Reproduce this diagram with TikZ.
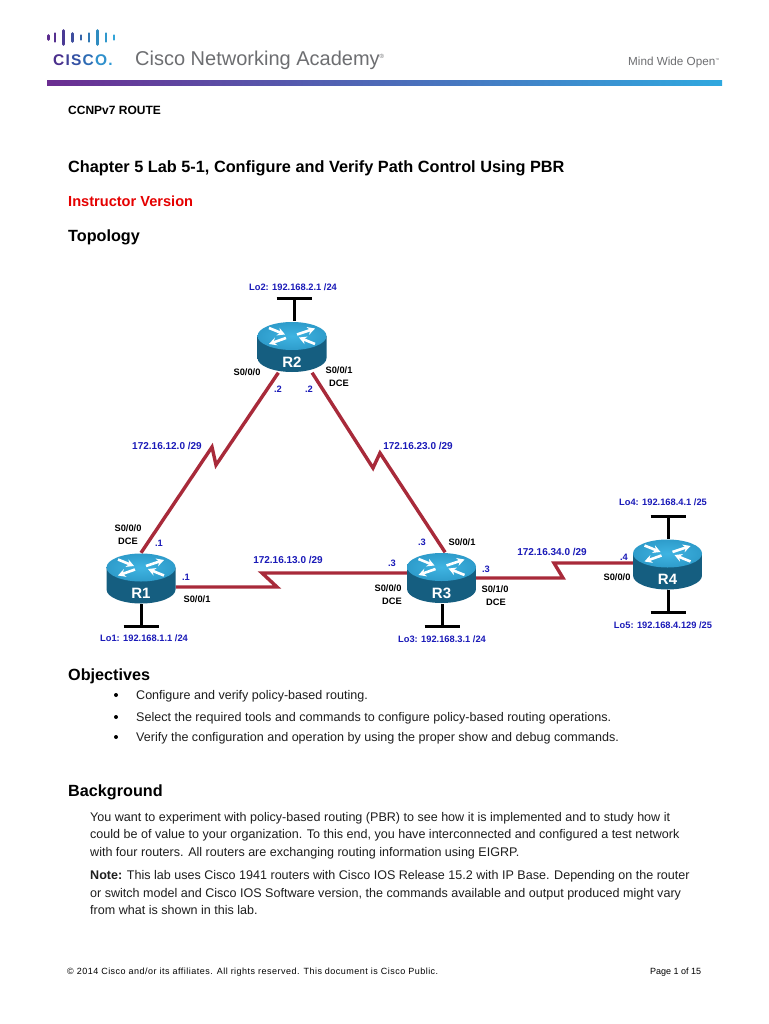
\documentclass[tikz,border=0pt]{standalone}
\usepackage{fontspec}
\setmainfont{Liberation Sans}
\usetikzlibrary{arrows.meta}
\newcommand\fs[1]{\fontsize{#1}{#1}\selectfont}
\definecolor{netblue}{HTML}{1A1AB8}
\definecolor{linkred}{HTML}{A82A3A}
\definecolor{cgrey}{HTML}{6D6E71}
\definecolor{bodyink}{HTML}{1E1E1E}
\definecolor{barl}{HTML}{6B2D91}
\definecolor{barm}{HTML}{1F4E96}
\definecolor{barr}{HTML}{2FA8DF}
\definecolor{rleft}{HTML}{155E80}
\definecolor{rmid}{HTML}{2A86AC}
\definecolor{rtopin}{HTML}{3FB4E2}
\definecolor{rtopout}{HTML}{2E9CCB}
\tikzset{
  txt/.style={inner sep=0pt,anchor=base west,text=black},
  lab/.style={inner sep=0pt,anchor=center,font=\fs{9.3}\bfseries,text=netblue},
  net/.style={inner sep=0pt,anchor=center,font=\fs{10}\bfseries,text=netblue},
  ifc/.style={inner sep=0pt,anchor=center,font=\fs{9.3}\bfseries,text=black},
  para/.style={txt,text=bodyink,font=\fs{12.55}},
  head/.style={txt,font=\fs{16.2}\bfseries},
  router/.style={inner sep=0pt,minimum width=69pt,minimum height=51pt,draw=none},
  rtext/.style={inner sep=0pt,anchor=center,font=\fs{15}\bfseries,text=white},
  link/.style={draw=linkred,line width=3.4pt,line join=miter},
  lopbk/.style={draw=black,line width=3pt},
  flow/.style={draw=white,line width=2.6pt,-{Stealth[length=7.5pt,width=8pt]}},
  logobar/.style={line width=2.6pt,line cap=round}
}
\newcommand\routerbody[3]{%
  \begin{scope}[shift={(#1,#2)}]
    \shade[left color=rleft,middle color=rmid,right color=rleft]
      (-34.5,-11) -- (-34.5,11) .. controls (-34.5,18.7) and (-19,25) .. (0,25)
      .. controls (19,25) and (34.5,18.7) .. (34.5,11) -- (34.5,-11) -- cycle;
    \shade[inner color=rtopin,outer color=rtopout] (0,-11) ellipse [x radius=34.5pt,y radius=14pt];
    \draw[flow] (-23,-19) -- (-7,-12.5);
    \draw[flow] (5,-12.5) -- (23,-18.5);
    \draw[flow] (-6,-9) -- (-23,-3);
    \draw[flow] (23,-3) -- (7,-9.5);
    \node[rtext] (#3t) at (0,15) {#3};
  \end{scope}}
\begin{document}
\begin{tikzpicture}[x=1pt,y=-1pt]
\useasboundingbox (0,0) rectangle (768,1024);
\fill[white] (0,0) rectangle (768,1024);
% header
\foreach \xp/\h/\c in {48.3/2/5B2C8E,55/4/55308F,63.3/7/4A3A94,72.3/4/3E4E9E,81/2/3563A8,89/4/3078B4,97.3/7/2F8CC0,106/4/3098CC,114/2/33A4D8}{
  \definecolor{lc}{HTML}{\c}
  \draw[logobar,lc] (\xp,37.5-\h) -- (\xp,37.5+\h);
}
\node[txt,font=\fs{15.5}\bfseries] (ciscoword) at (53,65.5) {\textcolor[HTML]{4A2F8C}{C}\kern1.2pt\textcolor[HTML]{3F3F96}{I}\kern1.2pt\textcolor[HTML]{3552A4}{S}\kern1.2pt\textcolor[HTML]{2E6CB4}{C}\kern1.2pt\textcolor[HTML]{2F90CC}{O}\kern1.2pt\textcolor[HTML]{2F9AD6}{.}};
\node[txt,text=cgrey,font=\fs{20}] (academy) at (135,66) {Cisco Networking Academy\raisebox{7pt}{\fs{6}®}};
\node[txt,text=cgrey,font=\fs{11.7}] (mind) at (628,66) {Mind Wide Open\raisebox{4pt}{\fs{4}™}};
\shade[left color=barl,middle color=barm,right color=barr] (47,80.5) rectangle (722,85.5);
\node[txt,font=\fs{12}\bfseries] (course) at (68,115) {CCNPv7 ROUTE};
\node[txt,font=\fs{16.3}\bfseries] (title) at (68,173) {Chapter 5 Lab 5-1, Configure and Verify Path Control Using PBR};
\node[txt,text=red!90!black,font=\fs{14.6}\bfseries] (instr) at (68,207) {Instructor Version};
\node[head] (topo) at (68,241) {Topology};
% routers
\node[router] (R1) at (141,578.5) {};
\node[router] (R2) at (292,347) {};
\node[router] (R3) at (441.5,578) {};
\node[router] (R4) at (667.5,564.5) {};
% zigzag corners
\coordinate (z12a) at (216,465); \coordinate (z12b) at (212,447);
\coordinate (z23a) at (373,468); \coordinate (z23b) at (380,453);
\coordinate (z13a) at (277,587); \coordinate (z13b) at (262,573);
\coordinate (z34a) at (563,578); \coordinate (z34b) at (554,563);
% serial links
\draw[link] (R2.242.5) -- (z12a) -- (z12b) -- (R1.north);
\draw[link] (R2.-52) -- (z23a) -- (z23b) -- (R3.82);
\draw[link] (R1.east |- z13a) -- (z13a) -- (z13b) -- (R3.west |- z13b);
\draw[link] (R3.east |- z34a) -- (z34a) -- (z34b) -- (R4.west |- z34b);
% loopbacks
\coordinate (lo1) at (141,626); \coordinate (lo2) at (294,298);
\coordinate (lo3) at (442,626); \coordinate (lo4) at (668,516); \coordinate (lo5) at (668,612);
\foreach \cc/\rr/\aa in {lo1/R1/south,lo2/R2/north,lo3/R3/south,lo4/R4/north,lo5/R4/south}{
  \draw[lopbk] (\cc) -- (\cc |- \rr.\aa);
  \draw[lopbk] ([xshift=-17.5pt]\cc) -- ([xshift=17.5pt]\cc);
}
\routerbody{141}{578.5}{R1}
\routerbody{292}{347}{R2}
\routerbody{441.5}{578}{R3}
\routerbody{667.5}{564.5}{R4}
% labels
\node[lab] (l2) at (293,287) {Lo2: 192.168.2.1 /24};
\node[ifc] (i2a) at (247,372) {S0/0/0};
\node[lab] (d2a) at (278,389) {.2};
\node[lab] (d2b) at (309,389) {.2};
\node[ifc] (i2b) at (339,370) {S0/0/1};
\node[ifc] (i2c) at (339,383) {DCE};
\node[net] (n23) at (418,446) {172.16.23.0 /29};
\node[net] (n12) at (167,446) {172.16.12.0 /29};
\node[ifc] (i1a) at (128,528) {S0/0/0};
\node[ifc] (i1b) at (128,541) {DCE};
\node[lab] (d1a) at (159,543) {.1};
\node[lab] (d1b) at (186,577) {.1};
\node[ifc] (i1c) at (197,599) {S0/0/1};
\node[lab] (l1) at (144,638) {Lo1: 192.168.1.1 /24};
\node[net] (n13) at (288,560) {172.16.13.0 /29};
\node[lab] (d3a) at (392,563) {.3};
\node[ifc] (i3a) at (388,588) {S0/0/0};
\node[ifc] (i3b) at (392,601) {DCE};
\node[lab] (d3b) at (422,542) {.3};
\node[ifc] (i3c) at (462,542) {S0/0/1};
\node[lab] (d3c) at (486,569) {.3};
\node[ifc] (i3d) at (495,589) {S0/1/0};
\node[ifc] (i3e) at (496,602) {DCE};
\node[lab] (l3) at (442,639) {Lo3: 192.168.3.1 /24};
\node[net] (n34) at (552,552) {172.16.34.0 /29};
\node[lab] (d4) at (624,557) {.4};
\node[ifc] (i4) at (617,577) {S0/0/0};
\node[lab] (l4) at (663,502) {Lo4: 192.168.4.1 /25};
\node[lab] (l5) at (663,625) {Lo5: 192.168.4.129 /25};
% objectives
\node[head] (obj) at (68,680) {Objectives};
\foreach \yy/\nm/\tt in {699/oa/Configure and verify policy-based routing.,721/ob/Select the required tools and commands to configure policy-based routing operations.,741/oc/Verify the configuration and operation by using the proper show and debug commands.}{
  \fill[black] (116,\yy-4) circle [radius=2pt];
  \node[para] (\nm) at (136,\yy) {\tt};
}
% background
\node[head] (bg) at (68,796) {Background};
\node[para] (p1) at (90,821) {You want to experiment with policy-based routing (PBR) to see how it is implemented and to study how it};
\node[para] (p2) at (90,838.5) {could be of value to your organization. To this end, you have interconnected and configured a test network};
\node[para] (p3) at (90,856) {with four routers. All routers are exchanging routing information using EIGRP.};
\node[para] (p4) at (90,879) {\textbf{Note:} This lab uses Cisco 1941 routers with Cisco IOS Release 15.2 with IP Base. Depending on the router};
\node[para] (p5) at (90,897) {or switch model and Cisco IOS Software version, the commands available and output produced might vary};
\node[para] (p6) at (90,914) {from what is shown in this lab.};
% footer
\node[txt,font=\fs{9}] (foot) at (67,974) {\addfontfeature{LetterSpace=5.4}© 2014 Cisco and/or its affiliates. All rights reserved. This document is Cisco Public.};
\node[txt,font=\fs{9}] (page) at (650,974) {Page 1 of 15};
\end{tikzpicture}
\end{document}
